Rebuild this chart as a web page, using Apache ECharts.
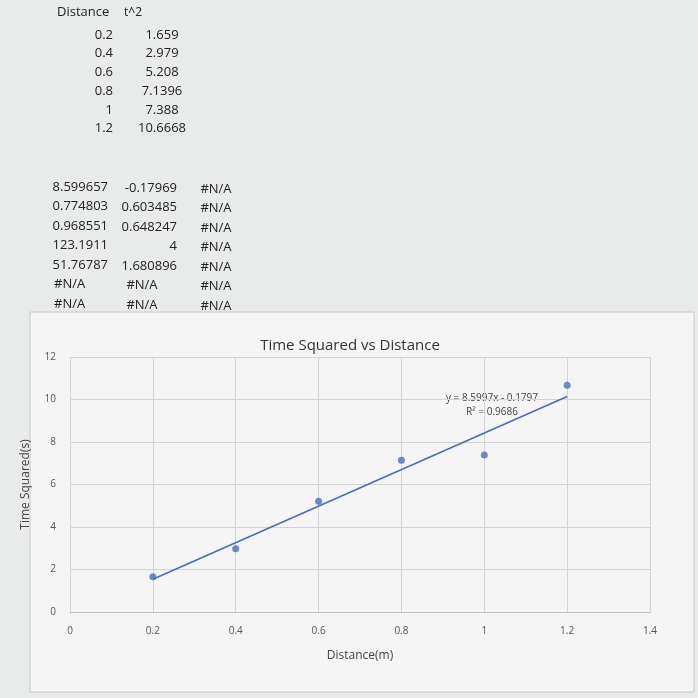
<!DOCTYPE html>
<html><head><meta charset="utf-8">
<script src="https://cdn.jsdelivr.net/npm/echarts@6/dist/echarts.min.js"></script>
<style>html,body{margin:0;padding:0;background:#e9ebea}#c{width:698px;height:698px}</style>
</head><body><div id="c"></div>
<script>
const distance = [0.2, 0.4, 0.6, 0.8, 1, 1.2];
const tSquared = [1.659, 2.979, 5.208, 7.1396, 7.388, 10.6668];
const distanceLabels = ['0.2','0.4','0.6','0.8','1','1.2'];
const tSquaredLabels = ['1.659','2.979','5.208','7.1396','7.388','10.6668'];
const linestCol1 = ['8.599657','0.774803','0.968551','123.1911','51.76787','#N/A','#N/A'];
const linestCol2 = ['-0.17969','0.603485','0.648247','4','1.680896','#N/A','#N/A'];
const linestCol3 = ['#N/A','#N/A','#N/A','#N/A','#N/A','#N/A','#N/A'];
const slope = 8.5997, intercept = -0.1797;

const font = '"Open Sans", "Liberation Sans", sans-serif';
const g = [];
g.push({type:'rect',shape:{x:30,y:312,width:664,height:380},style:{fill:'#f4f5f4',stroke:'#c8c8c8'}});
g.push({type:'text',style:{text:'Distance',x:57,y:12,fill:'#222',font:'13px '+font,textVerticalAlign:'middle'}});
g.push({type:'text',style:{text:'t^2',x:124,y:13,fill:'#222',font:'12px '+font,textVerticalAlign:'middle'}});
distanceLabels.forEach((t,i)=>{
  g.push({type:'text',style:{text:t,x:113,y:35+i*18.7,textAlign:'right',textVerticalAlign:'middle',fill:'#222',font:'13px '+font}});
  g.push({type:'text',style:{text:tSquaredLabels[i],x:162,y:35+i*18.7,textAlign:'center',textVerticalAlign:'middle',fill:'#222',font:'13px '+font}});
});
linestCol1.forEach((t,i)=>{
  const y=187+i*19.5;
  const isNA = t==='#N/A';
  g.push({type:'text',style:{text:t,x:isNA?54:108,y:y,textAlign:isNA?'left':'right',textVerticalAlign:'middle',fill:'#222',font:'13px '+font}});
  const t2=linestCol2[i], na2=t2==='#N/A';
  g.push({type:'text',style:{text:t2,x:na2?142:177,y:y+1,textAlign:na2?'center':'right',textVerticalAlign:'middle',fill:'#222',font:'13px '+font}});
  g.push({type:'text',style:{text:linestCol3[i],x:216,y:y+2,textAlign:'center',textVerticalAlign:'middle',fill:'#222',font:'13px '+font}});
});
g.push({type:'text',style:{text:'y = 8.5997x - 0.1797',x:492,y:398,textAlign:'center',textVerticalAlign:'middle',fill:'#444',font:'10px '+font}});
g.push({type:'text',style:{text:'R² = 0.9686',x:492,y:412,textAlign:'center',textVerticalAlign:'middle',fill:'#444',font:'10px '+font}});

const chart = echarts.init(document.getElementById('c'));
chart.setOption({
  animation:false,
  backgroundColor:'#e9ebea',
  graphic:g,
  title:{text:'Time Squared vs Distance',left:345,top:333,textAlign:'center',textStyle:{fontFamily:font,fontSize:15,fontWeight:'normal',color:'#333'}},
  grid:{left:70,right:48,top:357,bottom:86},
  xAxis:{type:'value',min:0,max:1.4,interval:0.2,name:'Distance(m)',nameLocation:'middle',nameGap:38,
    nameTextStyle:{fontFamily:font,fontSize:12,color:'#444'},
    axisLine:{show:true,lineStyle:{color:'#bbb'}},axisTick:{show:false},
    axisLabel:{fontFamily:font,fontSize:10,color:'#555',margin:14,formatter:v=>String(+v.toFixed(1))},
    splitLine:{lineStyle:{color:'#d4d4d4'}}},
  yAxis:{type:'value',min:0,max:12,interval:2,name:'Time Squared(s)',nameLocation:'middle',nameGap:38,
    nameTextStyle:{fontFamily:font,fontSize:12,color:'#444'},
    axisLine:{show:false},axisTick:{show:false},
    axisLabel:{fontFamily:font,fontSize:10,color:'#555',margin:14},
    splitLine:{lineStyle:{color:'#d4d4d4'}}},
  series:[
    {type:'line',data:[[0.2,slope*0.2+intercept],[1.2,slope*1.2+intercept]],symbol:'none',lineStyle:{color:'#4a6bbd',width:1.5},silent:true},
    {type:'scatter',data:distance.map((d,i)=>[d,tSquared[i]]),symbolSize:7,itemStyle:{color:'#4a6fc0'}}
  ]
});
</script></body></html>
